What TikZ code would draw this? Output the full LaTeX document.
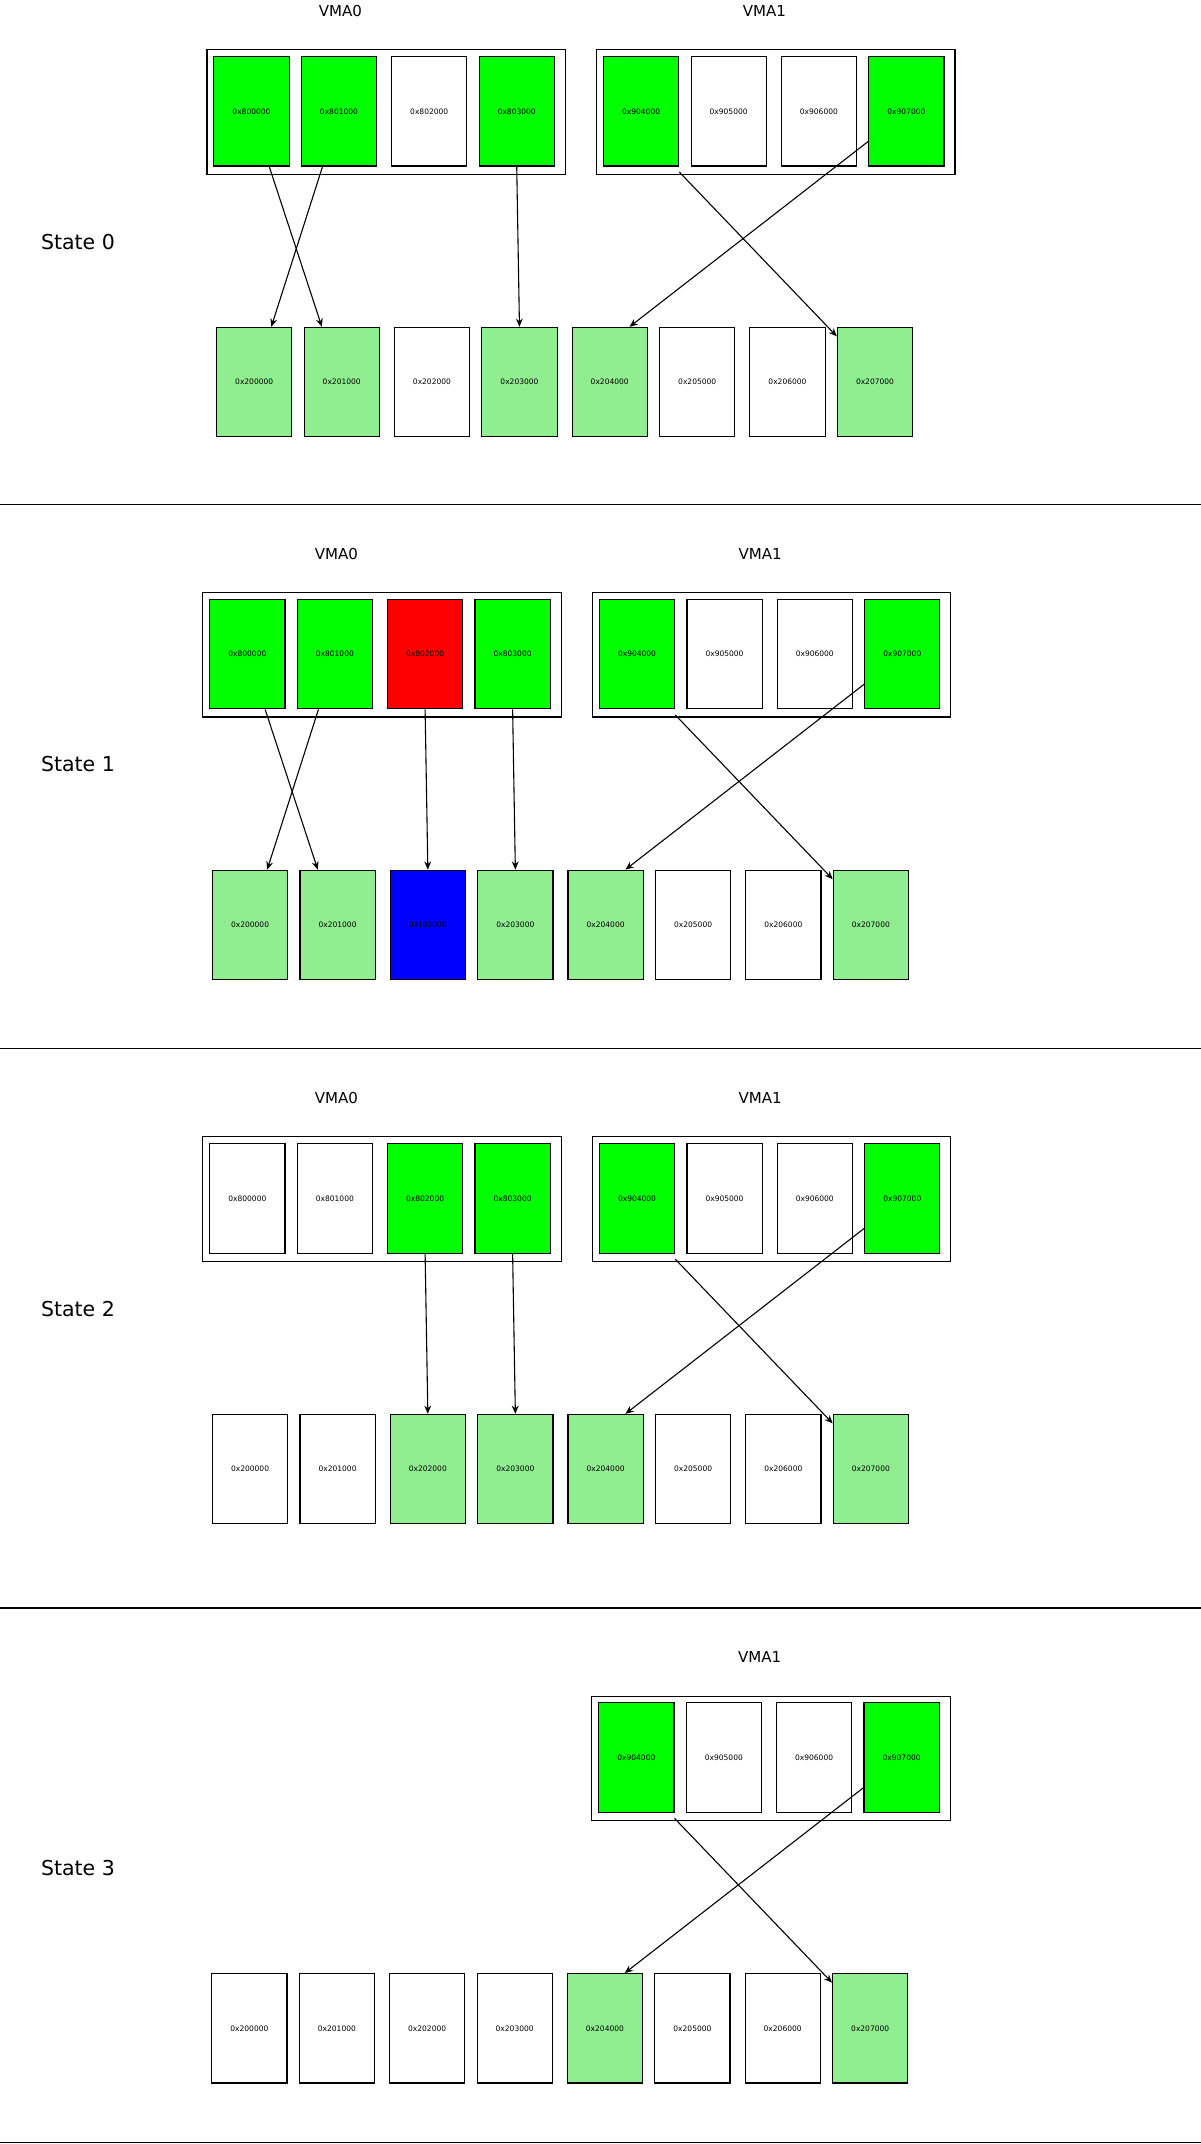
\documentclass[tikz,border=0pt]{standalone}
\usepackage{fontspec}
\setmainfont{DejaVu Sans}
\usetikzlibrary{arrows.meta}
\definecolor{g}{HTML}{00FF00}
\definecolor{lg}{HTML}{90EE90}
\tikzset{
 pg/.style={draw,thick,anchor=north west,minimum width=55pt,minimum height=80pt,inner sep=0pt,font=\fontsize{5.5}{6}\selectfont},
 vbox/.style={draw,thick},
 ar/.style={thick,-{Stealth[length=6pt,width=5pt]}},
 lab/.style={font=\fontsize{11}{13}\selectfont},
 st/.style={font=\fontsize{15}{18}\selectfont},
}
\newcommand\vmaA[2]{% prefix, colors list
 \node[vbox,minimum width=262pt,minimum height=91pt,anchor=north west,inner sep=0pt] (#1va) at (151,36) {};
 \node[lab] (#1la) at (249,8) {VMA0};
 \foreach \x/\l/\c [count=\i] in {#2} \node[pg,fill=\c] (#1t\i) at (\x,41) {\l};}
\newcommand\vmaB[1]{%
 \node[vbox,minimum width=262pt,minimum height=91pt,anchor=north west,inner sep=0pt] (#1vb) at (436,36) {};
 \node[lab] (#1lb) at (559,8) {VMA1};
 \foreach \x/\l/\c [count=\i from 5] in {441/0x904000/g,505/0x905000/white,571/0x906000/white,635/0x907000/g} \node[pg,fill=\c] (#1t\i) at (\x,41) {\l};}
\newcommand\botrow[2]{%
 \foreach \x/\l/\c [count=\i] in {#2} \node[pg,fill=\c] (#1b\i) at (\x,239) {\l};}
\newcommand\vmaBarrows[1]{%
 \draw[ar] ([yshift=-4pt]#1t5.south east) -- ([yshift=-7pt]#1b8.north west);
 \draw[ar] ([yshift=-22pt]#1t8.west) -- ([xshift=14.5pt]#1b5.north);}
\begin{document}
\begin{tikzpicture}[x=1pt,y=-1pt]
\useasboundingbox (0,0) rectangle (878,1568);
\foreach \yy [count=\k] in {369,767,1176,1567} \draw[thick] (0,\yy) -- (878,\yy);
\node[st] (st0) at (57,177) {State 0};
\node[st] (st1) at (57,559) {State 1};
\node[st] (st2) at (57,957) {State 2};
\node[st] (st3) at (57,1366) {State 3};
% State 0
\begin{scope}
\vmaA{a}{156/0x800000/g,220/0x801000/g,286/0x802000/white,350/0x803000/g}
\vmaB{a}
\botrow{a}{158/0x200000/lg,222/0x201000/lg,288/0x202000/white,352/0x203000/lg,418/0x204000/lg,482/0x205000/white,548/0x206000/white,612/0x207000/lg}
\draw[ar] ([xshift=13pt]at1.south) -- ([xshift=-14.5pt]ab2.north);
\draw[ar] ([xshift=-12pt]at2.south) -- ([xshift=12.5pt]ab1.north);
\draw[ar] (at4.south) -- (ab4.north);
\vmaBarrows{a}
\end{scope}
% State 1
\begin{scope}[shift={(-3,397)}]
\vmaA{b}{156/0x800000/g,220/0x801000/g,286/0x802000/red,350/0x803000/g}
\vmaB{b}
\botrow{b}{158/0x200000/lg,222/0x201000/lg,288/0x102000/blue,352/0x203000/lg,418/0x204000/lg,482/0x205000/white,548/0x206000/white,612/0x207000/lg}
\draw[ar] ([xshift=13pt]bt1.south) -- ([xshift=-14.5pt]bb2.north);
\draw[ar] ([xshift=-12pt]bt2.south) -- ([xshift=12.5pt]bb1.north);
\draw[ar] (bt3.south) -- (bb3.north);
\draw[ar] (bt4.south) -- (bb4.north);
\vmaBarrows{b}
\end{scope}
% State 2
\begin{scope}[shift={(-3,795)}]
\vmaA{c}{156/0x800000/white,220/0x801000/white,286/0x802000/g,350/0x803000/g}
\vmaB{c}
\botrow{c}{158/0x200000/white,222/0x201000/white,288/0x202000/lg,352/0x203000/lg,418/0x204000/lg,482/0x205000/white,548/0x206000/white,612/0x207000/lg}
\draw[ar] (ct3.south) -- (cb3.north);
\draw[ar] (ct4.south) -- (cb4.north);
\vmaBarrows{c}
\end{scope}
% State 3
\begin{scope}[shift={(-3.5,1204)}]
\vmaB{d}
\botrow{d}{158/0x200000/white,222/0x201000/white,288/0x202000/white,352/0x203000/white,418/0x204000/lg,482/0x205000/white,548/0x206000/white,612/0x207000/lg}
\vmaBarrows{d}
\end{scope}
\end{tikzpicture}
\end{document}
